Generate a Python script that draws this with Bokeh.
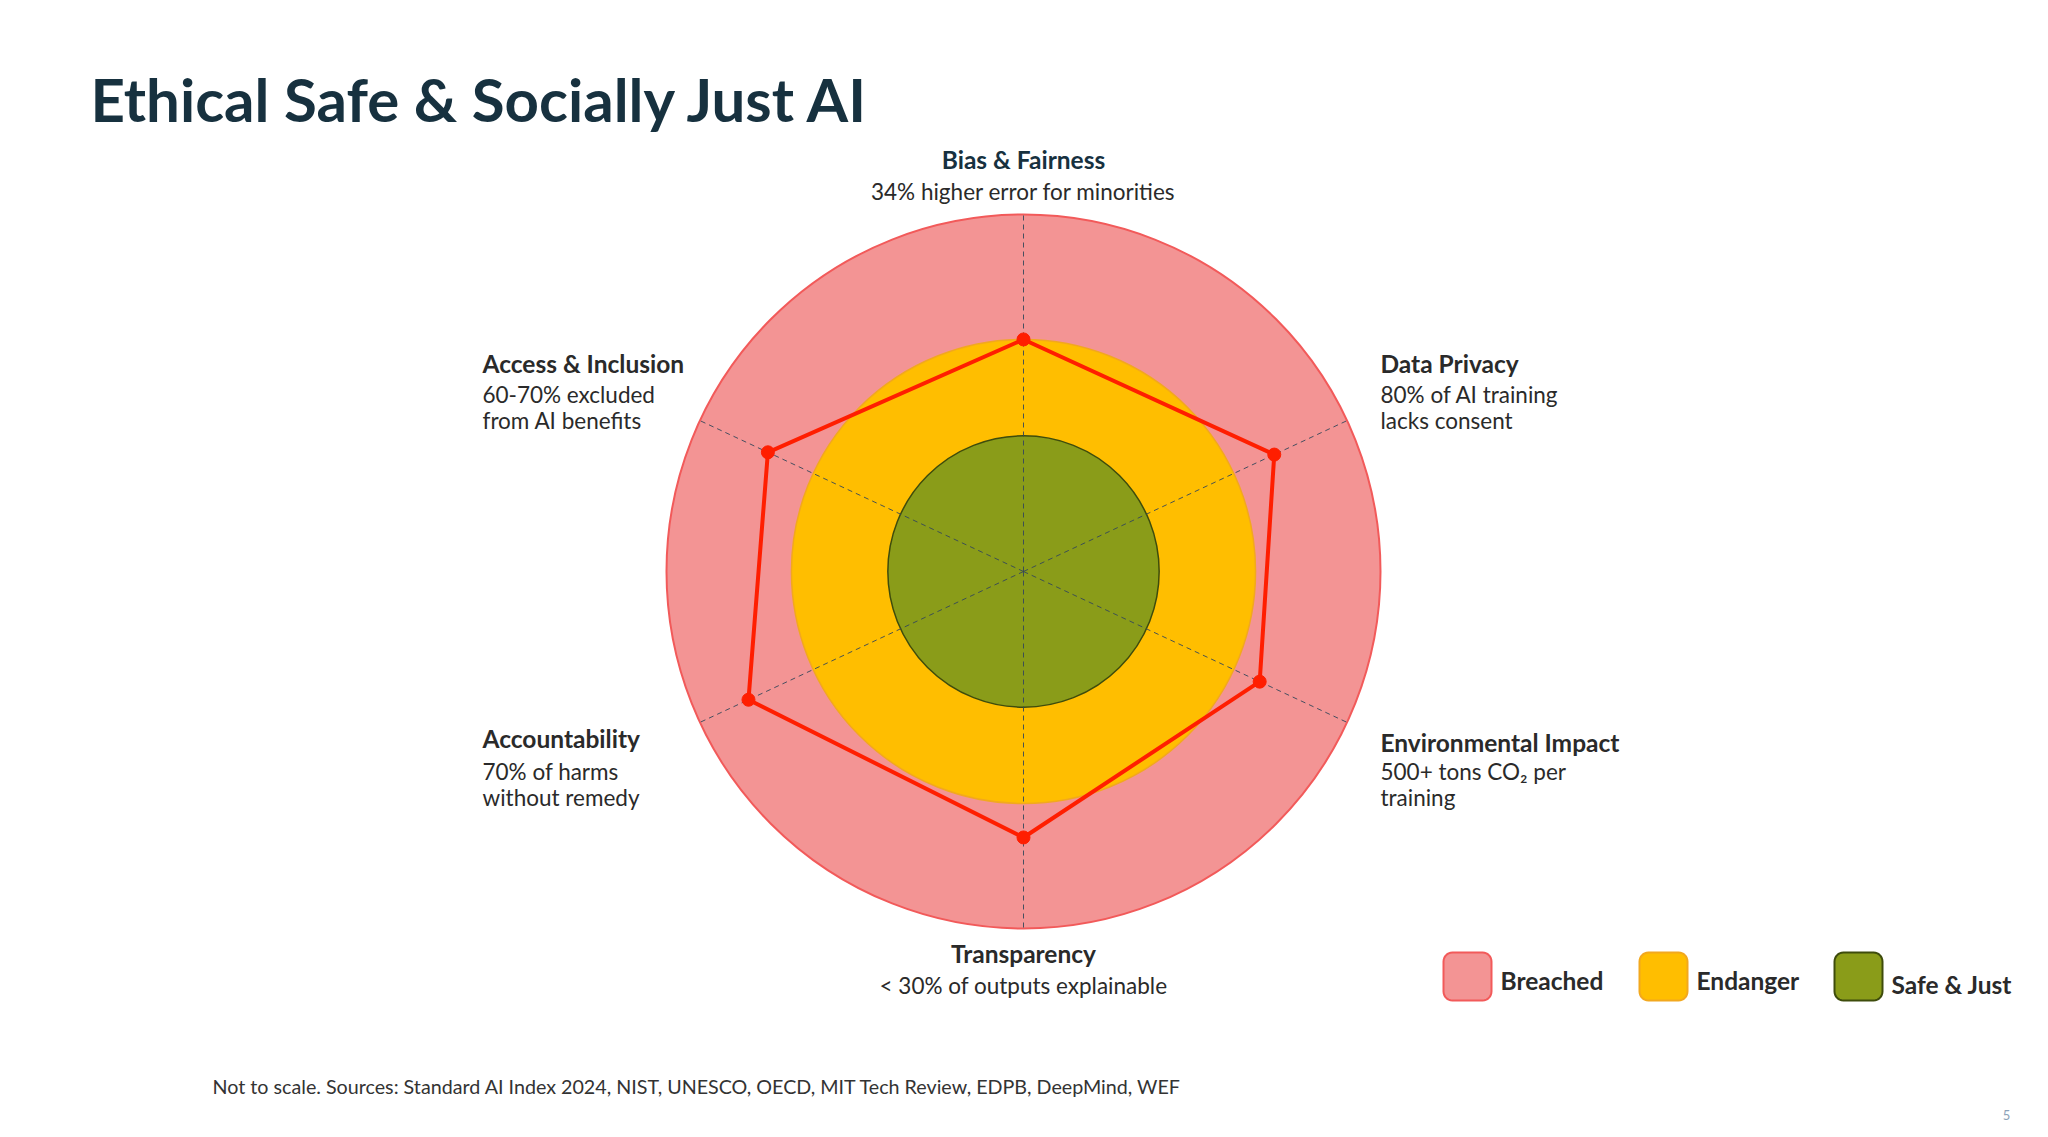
import numpy as np
from bokeh.plotting import figure
from bokeh.models import Range1d
from bokeh.core.properties import value
from bokeh.embed import file_html
from bokeh.resources import INLINE

# ---------------- data ----------------
TITLE = "Ethical Safe & Socially Just AI"
dimensions = ["Bias & Fairness", "Data Privacy", "Environmental Impact",
              "Transparency", "Accountability", "Access & Inclusion"]
details = [["34% higher error for minorities"],
           ["80% of AI training", "lacks consent"],
           ["500+ tons CO\u2082 per", "training"],
           ["< 30% of outputs explainable"],
           ["70% of harms", "without remedy"],
           ["60-70% excluded", "from AI benefits"]]
angles_deg = [90, 25, -25, -90, -155, 155]
scores = [65, 77.5, 73, 74.5, 85, 79]      # position on a 0-100 scale (not to scale)
zone_names = ["Breached", "Endanger", "Safe & Just"]
zone_radii = [100, 65, 38]
FOOTER = "Not to scale. Sources: Standard AI Index 2024, NIST, UNESCO, OECD, MIT Tech Review, EDPB, DeepMind, WEF"

# ---------------- styling ----------------
W, H = 2032, 1121
CX, CY = 1023, 571
PX_PER_UNIT = 3.57
zone_fill = ["#F39494", "#FFBE00", "#8A9C19"]
zone_line = ["#F25A5A", "#F2A81E", "#3E4C0C"]
zone_lw = [2, 1.5, 1.5]
NAVY = "#17313F"
DARK = "#2A2A2A"
FONT = value("Lato")

p = figure(width=W, height=H, output_backend="svg", toolbar_location=None,
           x_range=Range1d(0, W), y_range=Range1d(H, 0),
           min_border=0, outline_line_color=None)
p.axis.visible = False
p.grid.visible = False
p.background_fill_color = "white"
p.border_fill_color = "white"

# zones
for r, fc, lc, lw in zip(zone_radii, zone_fill, zone_line, zone_lw):
    p.circle(x=[CX], y=[CY], radius=r * PX_PER_UNIT, fill_color=fc,
             line_color=lc, line_width=lw)

# spokes
th = np.radians(angles_deg)
R = zone_radii[0] * PX_PER_UNIT
for t in th:
    p.line([CX, CX + R * np.cos(t)], [CY, CY - R * np.sin(t)],
           line_color="#34475A", line_width=1, line_dash="5 4", line_alpha=0.9)

# data polygon
rs = np.array(scores) * PX_PER_UNIT
xs = CX + rs * np.cos(th)
ys = CY - rs * np.sin(th)
p.line(list(xs) + [xs[0]], list(ys) + [ys[0]], line_color="#FF1E00",
       line_width=4, line_join="round")
p.scatter(xs, ys, size=13, fill_color="#FF1E00", line_color="#FF1E00")

# title
p.text(x=[90], y=[98], text=[TITLE], text_font=FONT, text_font_style="bold",
       text_font_size="60px", text_color=NAVY, text_baseline="middle")

# labels
label_pos = [(1023, 159, "center"), (1380, 363, "left"), (1380, 742, "left"),
             (1023, 953, "center"), (482, 738, "left"), (482, 363, "left")]
line_gap = [32, 31, 29, 32, 33, 31]
for name, det, (lx, ly, al), g in zip(dimensions, details, label_pos, line_gap):
    col = NAVY if al == "center" and ly < 300 else DARK
    p.text(x=[lx], y=[ly], text=[name], text_font=FONT, text_font_style="bold",
           text_font_size="24.5px", text_color=col, text_align=al,
           text_baseline="middle")
    for i, d in enumerate(det):
        p.text(x=[lx], y=[ly + g + i * 26], text=[d], text_font=FONT,
               text_font_size="22.5px", text_color=DARK, text_align=al,
               text_baseline="middle")

# legend with rounded squares
def rounded_square(x0, y0, s, rad, n=8):
    pts_x, pts_y = [], []
    corners = [(x0 + s - rad, y0 + rad, -90, 0), (x0 + s - rad, y0 + s - rad, 0, 90),
               (x0 + rad, y0 + s - rad, 90, 180), (x0 + rad, y0 + rad, 180, 270)]
    for cx, cy, a0, a1 in corners:
        a = np.radians(np.linspace(a0, a1, n))
        pts_x += list(cx + rad * np.cos(a))
        pts_y += list(cy + rad * np.sin(a))
    return pts_x, pts_y

leg_x = [1443, 1639, 1834]
leg_label_y = [980, 980, 984]
for nm, lx, fc, lc, tyy in zip(zone_names, leg_x, zone_fill, zone_line, leg_label_y):
    sx, sy = rounded_square(lx, 952, 48, 9)
    p.patch(sx, sy, fill_color=fc, line_color=lc, line_width=2)
    p.text(x=[lx + 57], y=[tyy], text=[nm], text_font=FONT, text_font_style="bold",
           text_font_size="24.5px", text_color=DARK, text_baseline="middle")

# footer
p.text(x=[212], y=[1086], text=[FOOTER], text_font=FONT, text_font_size="19.7px",
       text_color="#333333", text_baseline="middle")
p.text(x=[2006], y=[1114], text=["5"], text_font=FONT, text_font_size="13px",
       text_color="#8DA3B8", text_baseline="middle", text_align="center")

open("out.html", "w").write(file_html(p, INLINE))
